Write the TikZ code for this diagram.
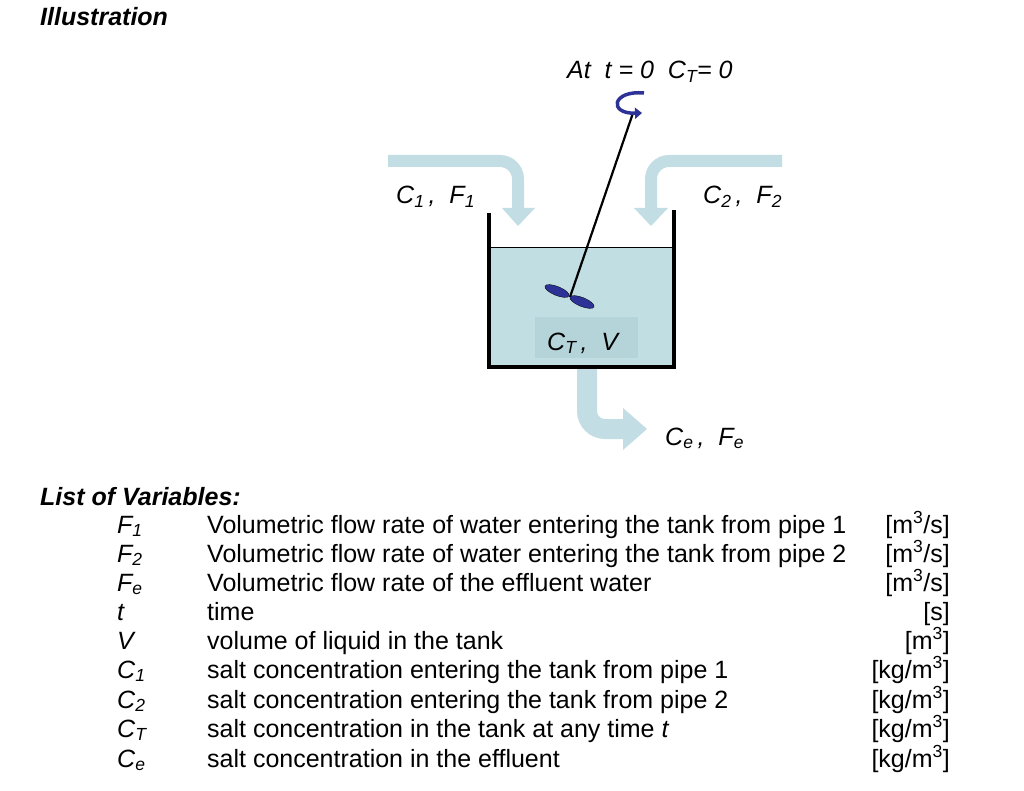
\documentclass[tikz,border=0pt]{standalone}
\usepackage{fontspec}
\setmainfont{Liberation Sans}
\usetikzlibrary{arrows.meta}
\definecolor{pipe}{RGB}{194,222,228}
\definecolor{liq}{RGB}{193,222,226}
\definecolor{lbl}{RGB}{181,212,218}
\definecolor{pad}{RGB}{45,50,150}
\begin{document}
\begin{tikzpicture}[x=1pt,y=-1pt,
  lab/.style={font=\fontsize{25}{28}\selectfont\itshape, anchor=base west, inner sep=0},
  txt/.style={font=\fontsize{25}{28}\selectfont, anchor=base west, inner sep=0},
  unit/.style={font=\fontsize{25}{28}\selectfont, anchor=base east, inner sep=0},
  flow/.style={draw=pipe, line width=12pt},
  head/.style={fill=pipe, draw=none}]
\useasboundingbox (0,0) rectangle (1024,791);
\node[lab, font=\fontsize{25}{28}\selectfont\bfseries\itshape] (ill) at (40,26) {Illustration};
% liquid
\fill[liq] (489,247) rectangle (674,367);
\node[fill=lbl, minimum width=103pt, minimum height=41pt, inner sep=0] (box) at (586.5,337.5) {};
\node[lab] (ctv) at (547,350) {C\textsubscript{\textit{T}}\,,\ \ V};
% pipes
\draw[flow, rounded corners=18pt] (388,161) -- (518,161) -- (518,210);
\fill[head] (502,208) -- (535,208) -- (518,226) -- cycle;
\draw[flow, rounded corners=18pt] (782,161) -- (651,161) -- (651,210);
\fill[head] (634,208) -- (668,208) -- (651,226) -- cycle;
\draw[flow, line width=20pt, rounded corners=18pt] (587,368) -- (587,429) -- (625,429);
\fill[head] (623,408) -- (647,429) -- (623,450) -- cycle;
% tank
\draw[line width=3.2pt] (489,213) -- (489,367) -- (674,367) -- (674,210);
\draw[line width=0.6pt] (489,247) -- (674,247);
% stirrer
\draw[line width=2.2pt] (570,297) -- (633,113);
\fill[pad, draw=black, line width=0.3pt, rotate around={-22:(557,291)}] (557,291) ellipse (13 and 4.5);
\fill[pad, draw=black, line width=0.3pt, rotate around={-22:(582,302)}] (582,302) ellipse (13 and 4.5);
\draw[pad, line width=3.5pt, -{Triangle[length=7pt,width=11pt]}] (644,93) .. controls (612,90) and (608,114) .. (642,113);
% labels
\node[lab] (top) at (567,79) {At\ \ t = 0\ \ C\textsubscript{\textit{T}}= 0};
\node[lab] (c1) at (396,204) {C\textsubscript{\textit{1}}\,,\ \ F\textsubscript{\textit{1}}};
\node[lab] (c2) at (703,204) {C\textsubscript{2}\,,\ \ F\textsubscript{2}};
\node[lab] (ce) at (665,445) {C\textsubscript{\textit{e}}\,,\ \ F\textsubscript{\textit{e}}};
% list
\node[lab, font=\fontsize{25}{28}\selectfont\bfseries\itshape] (lv) at (40,505) {List of Variables:};
\foreach \y/\s/\d/\u [count=\i] in {
 533/F\textsubscript{\textit{1}}/Volumetric flow rate of water entering the tank from pipe 1/{[m\textsuperscript{3}/s]},
 562/F\textsubscript{2}/Volumetric flow rate of water entering the tank from pipe 2/{[m\textsuperscript{3}/s]},
 591/F\textsubscript{\textit{e}}/Volumetric flow rate of the effluent water/{[m\textsuperscript{3}/s]},
 620/t/time/{[s]},
 649/V/volume of liquid in the tank/{[m\textsuperscript{3}]},
 678/C\textsubscript{\textit{1}}/salt concentration entering the tank from pipe 1/{[kg/m\textsuperscript{3}]},
 708/C\textsubscript{2}/salt concentration entering the tank from pipe 2/{[kg/m\textsuperscript{3}]},
 737/C\textsubscript{\textit{T}}/{salt concentration in the tank at any time \textit{t}}/{[kg/m\textsuperscript{3}]},
 767/C\textsubscript{\textit{e}}/salt concentration in the effluent/{[kg/m\textsuperscript{3}]}} {
  \node[lab] (s\i) at (117,\y) {\s};
  \node[txt] (d\i) at (207,\y) {\d};
  \node[unit] (u\i) at (950,\y) {\u};
}
\end{tikzpicture}
\end{document}
